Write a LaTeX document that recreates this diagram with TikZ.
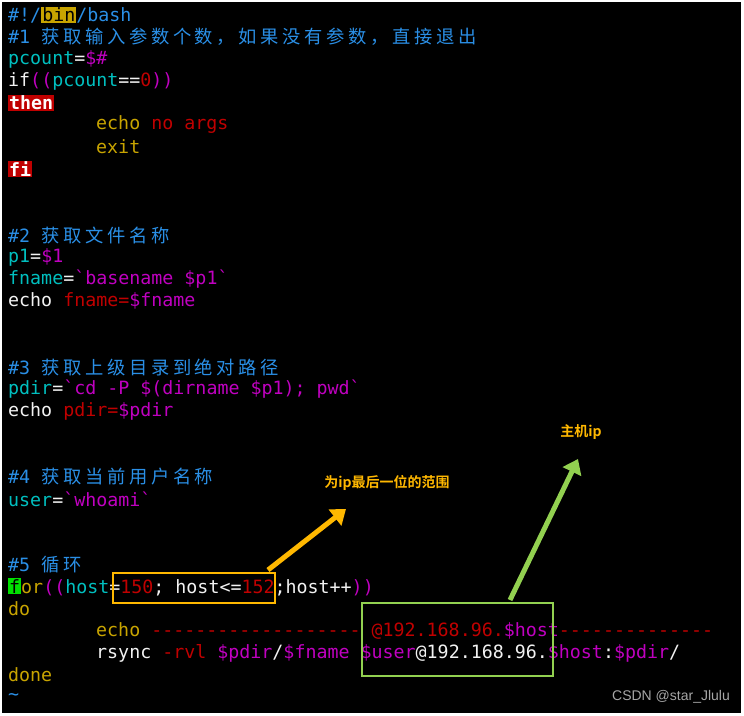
\documentclass[tikz,border=0pt]{standalone}
\usepackage{fontspec}
\usetikzlibrary{arrows.meta}
\setmonofont{DejaVu Sans Mono}
\newfontfamily\cjk[LetterSpace=20]{Noto Sans CJK SC}
\newfontfamily\cjkb[BoldFont={* Bold}]{Noto Sans CJK SC}
\setsansfont{Liberation Sans}
\definecolor{cm}{HTML}{2A8FE6}
\definecolor{cy}{HTML}{00BFBF}
\definecolor{mg}{HTML}{C000C0}
\definecolor{rd}{HTML}{C00000}
\definecolor{yl}{HTML}{C8A400}
\definecolor{wt}{HTML}{F2F2F2}
\definecolor{hy}{HTML}{C8A400}
\definecolor{gn}{HTML}{00E000}
\definecolor{ann}{HTML}{FFB800}
\definecolor{grn}{HTML}{92D050}
\newcommand{\C}[2]{\textcolor{#1}{#2}}
\newcommand{\hlx}[3]{{\setlength{\fboxsep}{1pt}\colorbox{#1}{\textcolor{#2}{#3}}}}
\newcommand{\zh}[1]{{\cjk #1}}
\newcommand{\codeln}[4]{\node[code] (#1) at (8+11*#3,15+22*#2) {#4};}
\begin{document}
\begin{tikzpicture}[x=1pt,y=-1pt,
  code/.style={anchor=west,inner sep=0pt,font=\ttfamily\fontsize{18.3}{22}\selectfont,text=wt},
  annlbl/.style={inner sep=0pt,font=\cjkb\bfseries\fontsize{14}{16}\selectfont}]
\useasboundingbox (0,0) rectangle (744,715);
\fill[white] (0,0) rectangle (744,715);
\fill[black] (2,2) rectangle (741,713);
\codeln{l0}{0}{0}{\C{cm}{\#!/}\hlx{hy}{black}{bin}\C{cm}{/bash}}
\codeln{l1}{1}{0}{\C{cm}{\#1 \zh{获取输入参数个数，如果没有参数，直接退出}}}
\codeln{l2}{2}{0}{\C{cy}{pcount}=\C{mg}{\$\#}}
\codeln{l3}{3}{0}{if\C{mg}{((}\C{cy}{pcount}==\C{rd}{0}\C{mg}{))}}
\codeln{l4}{4}{0}{\hlx{rd}{white}{\bfseries then}}
\codeln{l5}{5}{8}{\C{yl}{echo} \C{rd}{no args}}
\codeln{l6}{6}{8}{\C{yl}{exit}}
\codeln{l7}{7}{0}{\hlx{rd}{white}{\bfseries fi}}
\codeln{l10}{10}{0}{\C{cm}{\#2 \zh{获取文件名称}}}
\codeln{l11}{11}{0}{\C{cy}{p1}=\C{mg}{\$1}}
\codeln{l12}{12}{0}{\C{cy}{fname}=\C{mg}{`basename \$p1`}}
\codeln{l13}{13}{0}{echo \C{rd}{fname=}\C{mg}{\$fname}}
\codeln{l16}{16}{0}{\C{cm}{\#3 \zh{获取上级目录到绝对路径}}}
\codeln{l17}{17}{0}{\C{cy}{pdir}=\C{mg}{`cd -P \$(dirname \$p1); pwd`}}
\codeln{l18}{18}{0}{echo \C{rd}{pdir=}\C{mg}{\$pdir}}
\codeln{l21}{21}{0}{\C{cm}{\#4 \zh{获取当前用户名称}}}
\codeln{l22}{22}{0}{\C{cy}{user}=\C{mg}{`whoami`}}
\codeln{l25}{25}{0}{\C{cm}{\#5 \zh{循环}}}
\codeln{l26}{26}{0}{\hlx{gn}{black}{f}\C{yl}{or}\C{mg}{((}\C{cy}{host}=\C{rd}{150}; host<=\C{rd}{152};host++\C{mg}{))}}
\codeln{l27}{27}{0}{\C{yl}{do}}
\codeln{l28}{28}{8}{\C{yl}{echo} \C{rd}{------------------- @192.168.96.}\C{mg}{\$host}\C{rd}{ --------------}}
\codeln{l29}{29}{8}{rsync \C{rd}{-rvl} \C{mg}{\$pdir}/\C{mg}{\$fname} \C{mg}{\$user}@192.168.96.\C{mg}{\$host}:\C{mg}{\$pdir}/}
\codeln{l30}{30}{0}{\C{yl}{done}}
\codeln{l31}{31}{0}{\C{cm}{\textasciitilde}}
\node[draw=ann,line width=2.5pt,inner sep=0pt,minimum width=162pt,minimum height=30pt] (obox) at (194,588) {};
\node[draw=grn,line width=2.5pt,inner sep=0pt,minimum width=191pt,minimum height=73pt] (gbox) at (457.5,639.5) {};
\coordinate (oa) at (268,570);
\coordinate (ob) at (346,509);
\coordinate (ga) at (510,600);
\coordinate (gb) at (578,459);
\draw[ann,line width=5pt,-{Triangle[length=14pt,width=20pt]}] (oa) -- (ob);
\draw[grn,line width=5pt,-{Triangle[length=14pt,width=20pt]}] (ga) -- (gb);
\node[annlbl,text=ann] (olbl) at (387,483) {为ip最后一位的范围};
\node[annlbl,text=ann] (glbl) at (581,432) {主机ip};
\node[inner sep=0pt,font=\sffamily\fontsize{14}{16}\selectfont,text=gray!70] (wm) at (671,697) {CSDN @star\_Jlulu};
\end{tikzpicture}
\end{document}
